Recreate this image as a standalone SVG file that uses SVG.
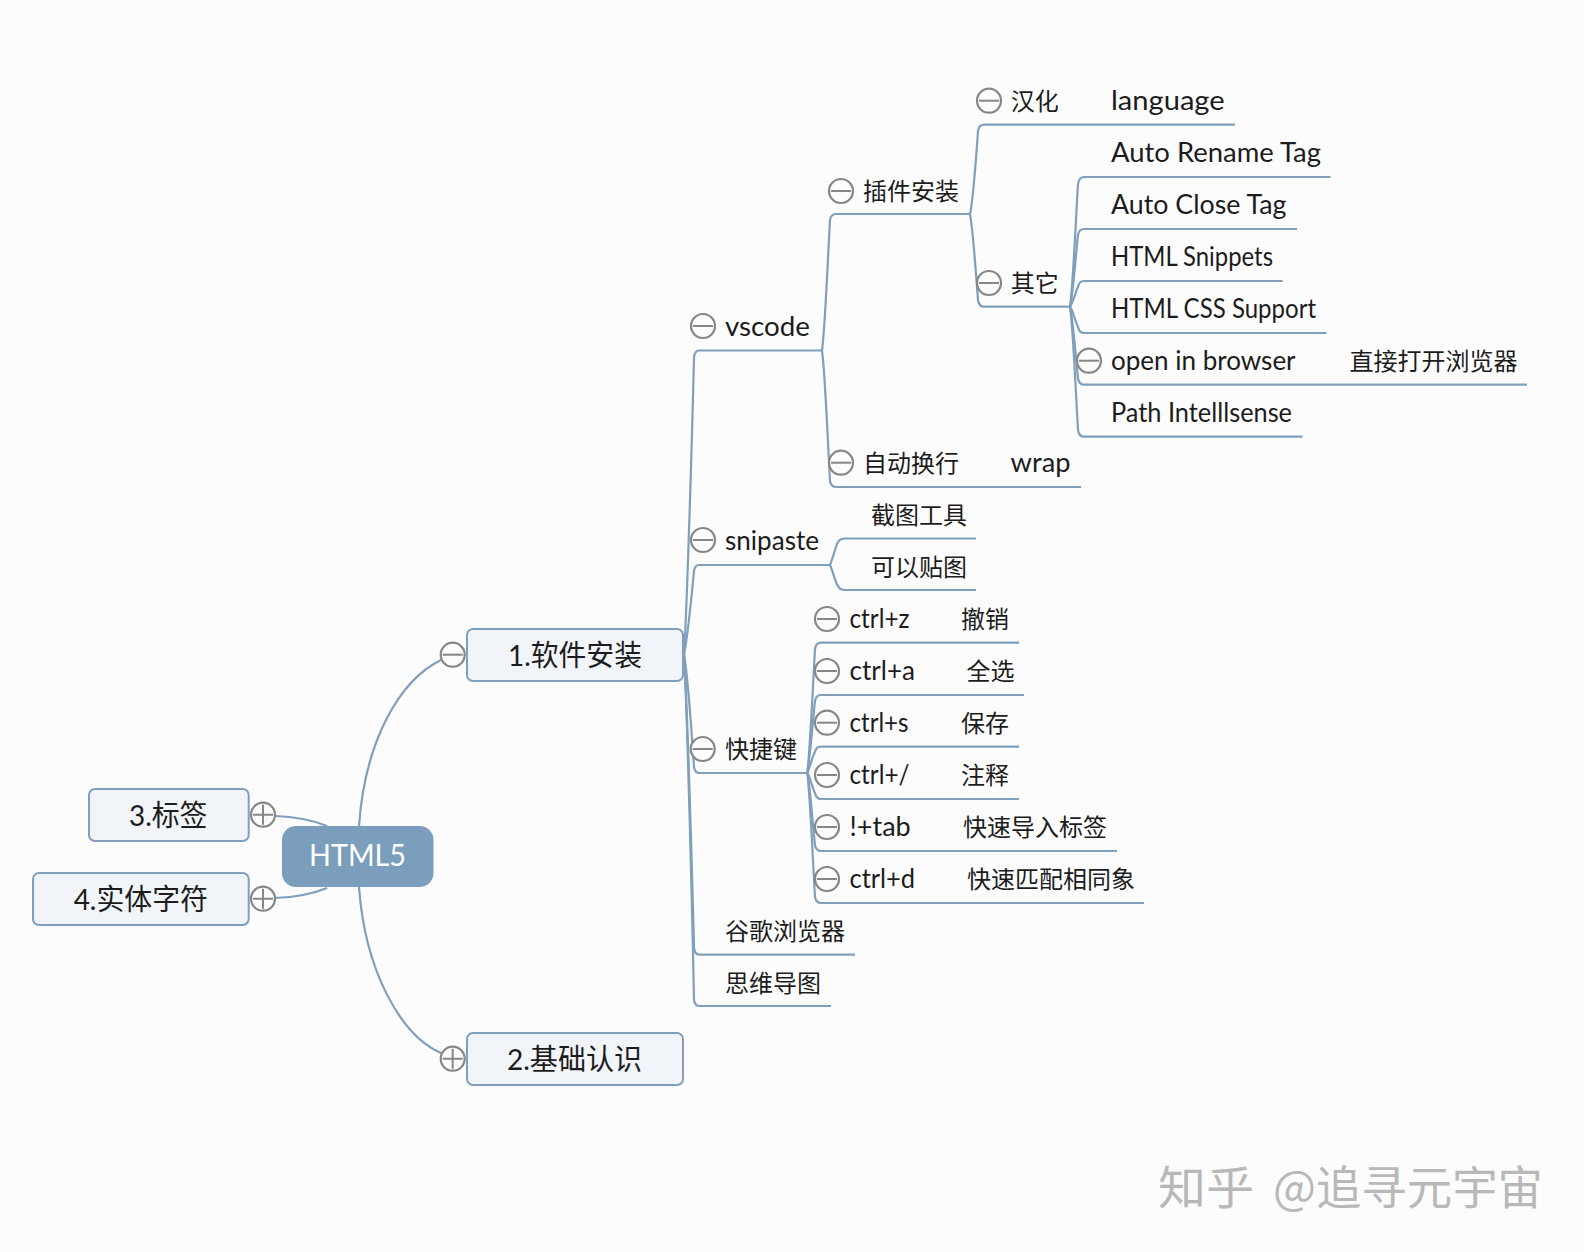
<svg xmlns="http://www.w3.org/2000/svg" width="1584" height="1252" viewBox="0 0 1584 1252">
<style>
text{font-family:"Lato","Noto Sans CJK SC","Noto Sans",sans-serif;font-size:26px;fill:#1c1c1c}
.c{font-family:"Noto Sans CJK SC",sans-serif;font-size:24px}
.t{font-size:29px}
.r{font-size:31px;fill:#fff}
.w{font-family:"Noto Sans CJK SC",sans-serif;font-size:46px;fill:#b8b8b8}
.box{fill:#f1f4f8;stroke:#7f9fbc;stroke-width:2}
.root{fill:#7b9ebd}
#connectors path{fill:none;stroke:#7f9fbc;stroke-width:2.200}
.tog circle{fill:#fbfcfc;stroke:#868686;stroke-width:2.200}
.tog path{fill:none;stroke:#868686;stroke-width:2}
</style>
<defs>
<g id="minus" class="tog"><circle r="12"/><path d="M-10 0H10"/></g>
<g id="plus" class="tog"><circle r="12"/><path d="M-10 0H10M0 -10V10"/></g>
</defs>
<rect width="1584" height="1252" fill="#fcfcfc"/>
<g id="connectors">
<path d="M359 826C365 740 400 680 441 660"/>
<path d="M359 887C365 970 400 1035 441 1053"/>
<path d="M327 826Q305 817 275 816"/>
<path d="M327 888Q305 897 275 898"/>
<path d="M684 654C687 608 692 441 694 357Q695 350.500 699 350.500H822"/>
<path d="M684 654C687 641 692 592 694 571Q695 565 699 565H830"/>
<path d="M684 654C687 672 692 737 694 767Q695 773 699 773H807"/>
<path d="M684 654C687 699 692 865 694 948Q695 954.600 699 954.600H855"/>
<path d="M684 654C687 707 692 900 694 1000Q695 1006 699 1006H831"/>
<path d="M822 350.500C825 330 828 255 830 220Q831 214 836 214H970"/>
<path d="M822 350.500C825 371 828 446 830 481Q831 487 836 487H1081"/>
<path d="M830 565C833 558 836 545 838 542Q840 538.500 845 538.500H976"/>
<path d="M830 565C833 572 836 584 838 586Q840 590 845 590H976"/>
<path d="M970 214.500C973 200 976 160 978 131Q979 124.700 984 124.700H1235"/>
<path d="M970 214.500C973 229 976 275 978 300Q979 306.700 984 306.700H1070"/>
<path d="M1070 306.700C1073 287 1076 216 1078 184Q1079 177 1084 177H1330.500"/>
<path d="M1070 306.700C1073 295 1076 252 1078 235Q1079 229 1084 229H1297"/>
<path d="M1070 306.700C1073 302 1076 291 1078 287Q1079 281 1084 281H1282.600"/>
<path d="M1070 306.700C1073 311 1076 323 1078 327Q1079 333 1084 333H1326.600"/>
<path d="M1070 306.700C1073 319 1076 361 1078 378Q1079 384.700 1084 384.700H1527"/>
<path d="M1070 306.700C1073 326 1076 397 1078 430Q1079 436.700 1084 436.700H1302.500"/>
<path d="M807.300 772.700C810 752 813 683 815 649Q816 642.700 821 642.700H1019"/>
<path d="M807.300 772.700C810 760 813 718 815 701Q816 695 821 695H1024"/>
<path d="M807.300 772.700C810 768 813 754 815 752Q816 746.700 821 746.700H1019"/>
<path d="M807.300 772.700C810 777 813 790 815 793Q816 799 821 799H1019"/>
<path d="M807.300 772.700C810 785 813 828 815 845Q816 851 821 851H1117"/>
<path d="M807.300 772.700C810 793 813 864 815 897Q816 903 821 903H1144"/>
</g>
<g id="root"><rect class="root" x="282" y="826" width="151.500" height="61" rx="14"/><text class="r" x="309" y="866" textLength="97" lengthAdjust="spacingAndGlyphs">HTML5</text></g>
<g id="n1"><rect class="box" x="467" y="629" width="216" height="52" rx="6"/><use href="#minus" x="452.700" y="654.700"/><text class="t" x="508" y="666" textLength="134" lengthAdjust="spacingAndGlyphs">1.软件安装</text></g>
<g id="n2"><rect class="box" x="467" y="1033" width="216" height="52" rx="6"/><use href="#plus" x="452.700" y="1058.700"/><text class="t" x="507" y="1070" textLength="135" lengthAdjust="spacingAndGlyphs">2.基础认识</text></g>
<g id="n3"><rect class="box" x="89" y="789" width="159.700" height="52" rx="6"/><use href="#plus" x="263" y="814.700"/><text class="t" x="129" y="826" textLength="78.500" lengthAdjust="spacingAndGlyphs">3.标签</text></g>
<g id="n4"><rect class="box" x="33" y="873" width="215.700" height="52" rx="6"/><use href="#plus" x="263" y="898.700"/><text class="t" x="73.700" y="910" textLength="134.300" lengthAdjust="spacingAndGlyphs">4.实体字符</text></g>
<g id="vscode"><use href="#minus" x="703" y="326"/><text x="725" y="336" textLength="85" lengthAdjust="spacingAndGlyphs">vscode</text></g>
<g id="plugin"><use href="#minus" x="841" y="191"/><text class="c" x="863" y="200">插件安装</text></g>
<g id="hanhua"><use href="#minus" x="989" y="100.700"/><text class="c" x="1010.700" y="110">汉化</text><text x="1111" y="110" textLength="113.600" lengthAdjust="spacingAndGlyphs">language</text></g>
<g id="other"><use href="#minus" x="989" y="283"/><text class="c" x="1010.700" y="292">其它</text></g>
<g id="renametag"><text x="1111" y="162" textLength="210" lengthAdjust="spacingAndGlyphs">Auto Rename Tag</text></g>
<g id="closetag"><text x="1111" y="214" textLength="175.400" lengthAdjust="spacingAndGlyphs">Auto Close Tag</text></g>
<g id="snippets"><text x="1111" y="265.500" textLength="162" lengthAdjust="spacingAndGlyphs">HTML Snippets</text></g>
<g id="csssupport"><text x="1111" y="318" textLength="205" lengthAdjust="spacingAndGlyphs">HTML CSS Support</text></g>
<g id="openbrowser"><use href="#minus" x="1089" y="360.700"/><text x="1111" y="369.500" textLength="184.600" lengthAdjust="spacingAndGlyphs">open in browser</text><text class="c" x="1349.600" y="370">直接打开浏览器</text></g>
<g id="intellisense"><text x="1111" y="421.500" textLength="181" lengthAdjust="spacingAndGlyphs">Path Intelllsense</text></g>
<g id="wrapnode"><use href="#minus" x="841" y="462.700"/><text class="c" x="863" y="472">自动换行</text><text x="1010.500" y="471.500" textLength="60" lengthAdjust="spacingAndGlyphs">wrap</text></g>
<g id="snipaste"><use href="#minus" x="703" y="540"/><text x="725" y="549.500" textLength="94" lengthAdjust="spacingAndGlyphs">snipaste</text></g>
<g id="shot"><text class="c" x="871" y="524">截图工具</text></g>
<g id="paste"><text class="c" x="871" y="576">可以贴图</text></g>
<g id="shortcuts"><use href="#minus" x="702.700" y="749"/><text class="c" x="725" y="758">快捷键</text></g>
<g id="ctrlz"><use href="#minus" x="827" y="619"/><text x="849.500" y="627.500" textLength="60" lengthAdjust="spacingAndGlyphs">ctrl+z</text><text class="c" x="961" y="628">撤销</text></g>
<g id="ctrla"><use href="#minus" x="827" y="671"/><text x="849.500" y="679.500" textLength="65.500" lengthAdjust="spacingAndGlyphs">ctrl+a</text><text class="c" x="966.500" y="680">全选</text></g>
<g id="ctrls"><use href="#minus" x="827" y="722.700"/><text x="849.500" y="731.500" textLength="59" lengthAdjust="spacingAndGlyphs">ctrl+s</text><text class="c" x="961" y="732">保存</text></g>
<g id="ctrlslash"><use href="#minus" x="827" y="775"/><text x="849.500" y="783.500" textLength="60" lengthAdjust="spacingAndGlyphs">ctrl+/</text><text class="c" x="961" y="784">注释</text></g>
<g id="tab"><use href="#minus" x="827" y="827"/><text x="849.500" y="835.500" textLength="61.200" lengthAdjust="spacingAndGlyphs">!+tab</text><text class="c" x="963" y="836">快速导入标签</text></g>
<g id="ctrld"><use href="#minus" x="827" y="879"/><text x="849.500" y="887.500" textLength="65.500" lengthAdjust="spacingAndGlyphs">ctrl+d</text><text class="c" x="967" y="888">快速匹配相同象</text></g>
<g id="chrome"><text class="c" x="725" y="940">谷歌浏览器</text></g>
<g id="mindmap"><text class="c" x="725" y="992">思维导图</text></g>
<g id="watermark"><text class="w" x="1158" y="1204" textLength="96" lengthAdjust="spacingAndGlyphs">知乎</text><text class="w" x="1273" y="1204" textLength="270" lengthAdjust="spacingAndGlyphs">@追寻元宇宙</text></g>
</svg>
